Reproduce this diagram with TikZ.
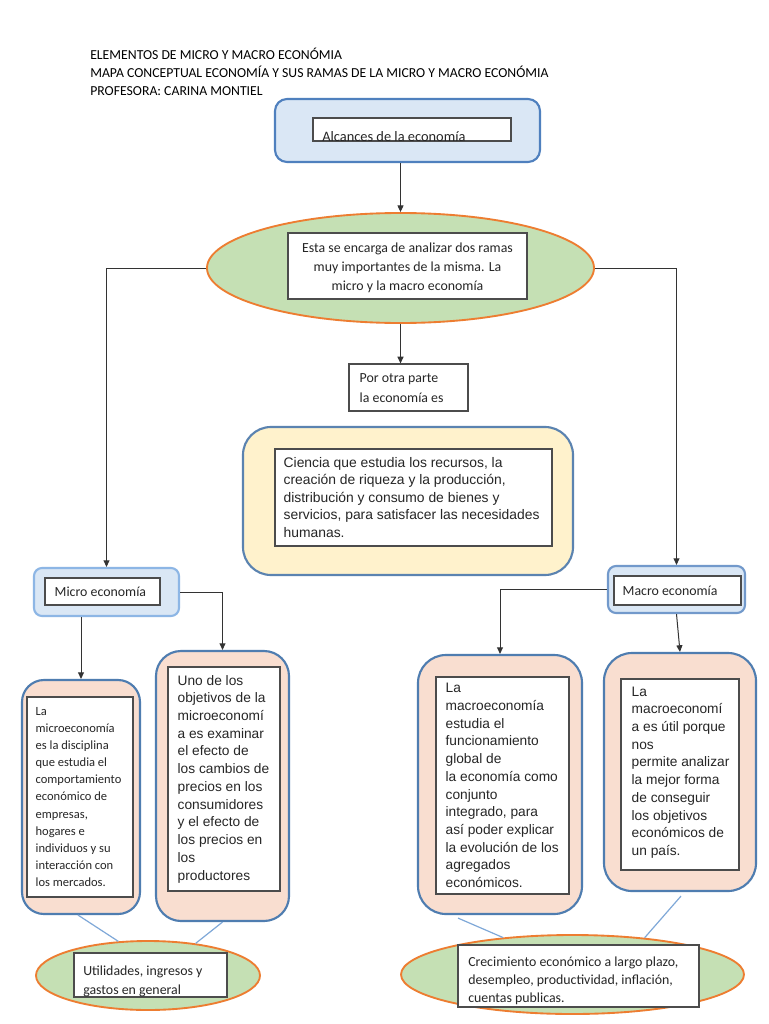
\documentclass[tikz,border=0pt]{standalone}
\usepackage{fontspec}
\setmainfont{Carlito}
\newfontfamily\arialf{Liberation Sans}
\usetikzlibrary{arrows.meta,shapes.geometric,calc}
\newlength\pxu \setlength\pxu{0.75pt}
\definecolor{bluefill}{HTML}{DAE7F5}
\definecolor{bluebd}{HTML}{4F80BE}
\definecolor{bluebdl}{HTML}{8DB6E5}
\definecolor{greenfill}{HTML}{C5E0B4}
\definecolor{orangebd}{HTML}{ED7D31}
\definecolor{yelfill}{HTML}{FFF2CC}
\definecolor{yelbd}{HTML}{5B83B0}
\definecolor{peachfill}{HTML}{F9DED0}
\definecolor{peachbd}{HTML}{4F7DB0}
\definecolor{linkblue}{HTML}{7FA8D8}
\definecolor{txt}{HTML}{262626}
\begin{document}
\begin{tikzpicture}[x=0.75pt,y=-0.75pt,
  every node/.style={inner sep=0pt, text=txt},
  outerbox/.style={draw=#1, line width=1.6pt, rectangle},
  innerbox/.style={draw=black!70, fill=white, line width=0.9pt, rectangle},
  greenell/.style={ellipse, draw=orangebd, fill=greenfill, line width=1.4pt},
  conn/.style={draw=black!80, line width=0.75pt, -{Triangle[length=5pt,width=4.5pt]}},
  link/.style={draw=linkblue, line width=0.9pt},
  cartxt/.style={font=\fontsize{10.4}{14.25}\selectfont, align=left},
  ariatxt/.style={font=\arialf\fontsize{10.3}{13.3}\selectfont, align=left},
  titletxt/.style={font=\fontsize{10.3}{13}\selectfont, anchor=base west, text=black}
]
\useasboundingbox[fill=white] (0,0) rectangle (768,1024);

% title
\node[titletxt] (t1) at (90,59.5) {ELEMENTOS DE MICRO Y MACRO ECONÓMIA};
\node[titletxt] (t2) at (90,77.5) {MAPA CONCEPTUAL ECONOMÍA Y SUS RAMAS DE LA MICRO Y MACRO ECONÓMIA};
\node[titletxt] (t3) at (90,95.5) {PROFESORA: CARINA MONTIEL};

% Alcances
\node[outerbox=bluebd, fill=bluefill, rounded corners=12\pxu, minimum width=265\pxu, minimum height=63\pxu] (alc) at (407.5,130.5) {};
\node[innerbox, minimum width=198\pxu, minimum height=23\pxu] (alcIn) at (412,129.5) {};
\begin{scope}
\clip (alcIn.south west) rectangle (alcIn.north east);
\node[font=\fontsize{10.8}{14}\selectfont, anchor=base west] (alcText) at (322,142) {Alcances de la economía};
\end{scope}
\draw[black!70, line width=0.9pt] (alcIn.south west) rectangle (alcIn.north east);

% ellipse 1
\node[greenell, minimum width=387\pxu, minimum height=110\pxu] (ell1) at (400.5,268) {};
\node[innerbox, minimum width=239\pxu, minimum height=66\pxu] (ell1In) at (407.5,266) {};
\node[cartxt, align=center] (ell1Text) at ($(ell1In.center)+(0,2)$) {Esta se encarga de analizar dos ramas\\muy importantes de la misma. La\\micro y la macro economía};

% Por otra parte
\node[innerbox, minimum width=119\pxu, minimum height=47\pxu] (por) at (408.5,387.5) {};
\node[font=\fontsize{10.4}{15}\selectfont, align=left, anchor=west] (porText) at ($(por.west)+(11,1)$) {Por otra parte\\la economía es};

% yellow
\node[outerbox=yelbd, fill=yelfill, rounded corners=28\pxu, minimum width=330\pxu, minimum height=148\pxu] (yel) at (408,501) {};
\node[innerbox, minimum width=277\pxu, minimum height=97\pxu] (yelIn) at (413.5,497.5) {};
\node[font=\arialf\fontsize{10.4}{13.1}\selectfont, align=left, anchor=west] (yelText) at ($(yelIn.west)+(9,0)$) {Ciencia que estudia los recursos, la\\creación de riqueza y la producción,\\distribución y consumo de bienes y\\servicios, para satisfacer las necesidades\\humanas.};

% micro / macro
\node[outerbox=bluebdl, fill=bluefill, rounded corners=8\pxu, minimum width=145\pxu, minimum height=48\pxu] (micro) at (106.5,592) {};
\node[innerbox, minimum width=115\pxu, minimum height=27\pxu] (microIn) at (102.5,591.5) {};
\node[cartxt, anchor=west] (microText) at ($(microIn.west)+(10,0)$) {Micro economía};

\node[outerbox=bluebd!80, fill=bluefill, rounded corners=8\pxu, minimum width=137\pxu, minimum height=47\pxu] (macro) at (676.5,589.5) {};
\node[innerbox, minimum width=127\pxu, minimum height=29\pxu] (macroIn) at (677.5,590.5) {};
\node[cartxt, anchor=west] (macroText) at ($(macroIn.west)+(9,0)$) {Macro economía};

% peach boxes
\node[outerbox=peachbd, fill=peachfill, rounded corners=22\pxu, minimum width=118\pxu, minimum height=234\pxu] (boxA) at (81,797) {};
\node[innerbox, minimum width=106\pxu, minimum height=200\pxu] (boxAIn) at (80,797) {};
\node[font=\fontsize{9.4}{12.8}\selectfont, align=left, anchor=west] (boxAText) at ($(boxAIn.west)+(9,0)$) {La\\microeconomía\\es la disciplina\\que estudia el\\comportamiento\\económico de\\empresas,\\hogares e\\individuos y su\\interacción con\\los mercados.};

\node[outerbox=peachbd, fill=peachfill, rounded corners=25\pxu, minimum width=133\pxu, minimum height=270\pxu] (boxB) at (222.5,786) {};
\node[innerbox, minimum width=112\pxu, minimum height=224\pxu] (boxBIn) at (224,779) {};
\node[ariatxt, anchor=west] (boxBText) at ($(boxBIn.west)+(10,0)$) {Uno de los\\objetivos de la\\microeconomí\\a es examinar\\el efecto de\\los cambios de\\precios en los\\consumidores\\y el efecto de\\los precios en\\los\\productores};

\node[outerbox=peachbd, fill=peachfill, rounded corners=28\pxu, minimum width=164\pxu, minimum height=259\pxu] (boxC) at (500,784.5) {};
\node[innerbox, minimum width=133\pxu, minimum height=217\pxu] (boxCIn) at (502.5,785.5) {};
\node[ariatxt, anchor=west] (boxCText) at ($(boxCIn.west)+(10,0)$) {La\\macroeconomía\\estudia el\\funcionamiento\\global de\\la economía como\\conjunto\\integrado, para\\así poder explicar\\la evolución de los\\agregados\\económicos.};

\node[outerbox=peachbd, fill=peachfill, rounded corners=28\pxu, minimum width=152\pxu, minimum height=238\pxu] (boxD) at (680,772) {};
\node[innerbox, minimum width=118\pxu, minimum height=191\pxu] (boxDIn) at (680,774.5) {};
\node[ariatxt, anchor=west] (boxDText) at ($(boxDIn.west)+(11,-2)$) {La\\macroeconomí\\a es útil porque\\nos\\permite analizar\\la mejor forma\\de conseguir\\los objetivos\\económicos de\\un país.};

% bottom ellipses
\node[greenell, minimum width=224\pxu, minimum height=69\pxu] (ell2) at (148,975.5) {};
\node[innerbox, minimum width=153\pxu, minimum height=44\pxu] (ell2In) at (150.5,975) {};
\begin{scope}
\clip (ell2In.south west) rectangle (ell2In.north east);
\node[font=\fontsize{10.4}{14.25}\selectfont, align=left, anchor=base west] (ell2Text) at (83,994) {Utilidades, ingresos y\\gastos en general};
\end{scope}
\draw[black!70, line width=0.9pt] (ell2In.south west) rectangle (ell2In.north east);

\node[greenell, minimum width=343\pxu, minimum height=79\pxu] (ell3) at (572.5,974.5) {};
\node[innerbox, minimum width=240\pxu, minimum height=62\pxu] (ell3In) at (578.5,976) {};
\begin{scope}
\clip (ell3In.south west) rectangle (ell3In.north east);
\node[font=\fontsize{10.4}{13.5}\selectfont, align=left, anchor=base west] (ell3Text) at (468,1002) {Crecimiento económico a largo plazo,\\desempleo, productividad, inflación,\\cuentas publicas.};
\end{scope}
\draw[black!70, line width=0.9pt] (ell3In.south west) rectangle (ell3In.north east);

% connectors
\draw[conn] (alc.south -| ell1.north) -- (ell1.north);
\draw[conn] (ell1.south) -- (ell1.south |- por.north);
\draw[conn] (ell1.west) -| (micro.north);
\draw[conn] (ell1.east) -| (macro.north);
\draw[conn] (micro.east) -| (boxB.north);
\draw[conn] (micro.south -| boxA.north) -- (boxA.north);
\draw[conn] (macro.west) -| (boxC.north);
\draw[conn] (macro.south) -- (boxD.north);

% links
\draw[link] ($(boxA.south)+(-3,0)$) -- (ell2.131);
\draw[link] (boxB.south) -- (ell2.34);
\draw[link] ($(boxC.south)+(-42,3)$) -- (ell3.152);
\draw[link] ($(boxD.south)+(1,4)$) -- (ell3.27);
\end{tikzpicture}
\end{document}
